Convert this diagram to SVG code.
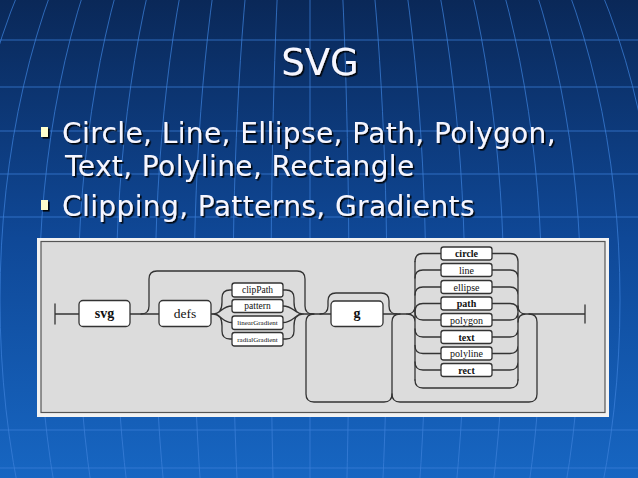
<svg xmlns="http://www.w3.org/2000/svg" width="638" height="478" viewBox="0 0 638 478">
<defs>
<linearGradient id="bg" x1="0" y1="0" x2="0" y2="1">
<stop offset="0" stop-color="#0a2858"/>
<stop offset="0.5" stop-color="#0f4897"/>
<stop offset="1" stop-color="#1766c2"/>
</linearGradient>
<filter id="sh" x="-10%" y="-20%" width="120%" height="150%">
<feDropShadow dx="1.6" dy="1.6" stdDeviation="0.4" flood-color="#000" flood-opacity="0.9"/>
</filter>
<style>
.grid{fill:none;stroke:#3b7fd8;stroke-width:1;opacity:0.75}
.slide{font-family:"DejaVu Sans",Verdana,sans-serif;fill:#f6f6ff}
.bul{fill:#ffffcc}
.box{fill:#ffffff;stroke:#333;stroke-width:1.3}
.rail{fill:none;stroke:#333;stroke-width:1.3;stroke-linecap:round}
.lbl{font-family:"Liberation Serif","Times New Roman",serif;fill:#111;text-anchor:middle}
.b{font-weight:bold}
</style>
</defs>
<rect width="638" height="478" fill="url(#bg)"/>
<g id="grid">
<path class="grid" d="M0,40H638M0,87H638M0,131H638M0,174H638M0,217H638M0,430H638M0,468H638"/>
<path class="grid" d="M310,0V478"/>
<ellipse class="grid" cx="310" cy="300" rx="39" ry="560"/>
<ellipse class="grid" cx="310" cy="300" rx="77" ry="560"/>
<ellipse class="grid" cx="310" cy="300" rx="116" ry="560"/>
<ellipse class="grid" cx="310" cy="300" rx="155" ry="560"/>
<ellipse class="grid" cx="310" cy="300" rx="194" ry="560"/>
<ellipse class="grid" cx="310" cy="300" rx="232" ry="560"/>
<ellipse class="grid" cx="310" cy="300" rx="271" ry="560"/>
<ellipse class="grid" cx="310" cy="300" rx="310" ry="560"/>
<ellipse class="grid" cx="310" cy="300" rx="349" ry="560"/>
<ellipse class="grid" cx="310" cy="300" rx="390" ry="560"/>
<ellipse class="grid" cx="310" cy="300" rx="435" ry="560"/>
</g>
<g id="title" filter="url(#sh)">
<text class="slide" x="320" y="75" font-size="37" text-anchor="middle" fill="#e4eefa">SVG</text>
</g>
<g id="bullets" filter="url(#sh)">
<rect class="bul" x="41" y="127" width="7" height="10"/>
<text class="slide" x="62" y="143" font-size="28" letter-spacing="0.4">Circle, Line, Ellipse, Path, Polygon,</text>
<text class="slide" x="65" y="176" font-size="28" letter-spacing="0.4">Text, Polyline, Rectangle</text>
<rect class="bul" x="41" y="200" width="7" height="10"/>
<text class="slide" x="62" y="216" font-size="28" letter-spacing="0.4">Clipping, Patterns, Gradients</text>
</g>
<g id="panel">
<rect x="37" y="238" width="572" height="179" fill="#f2f2f2"/>
<rect x="41" y="241.5" width="564" height="171" fill="#dcdcdc" stroke="#555" stroke-width="1.2"/>
</g>
<g id="connectors">
<path class="rail" d="M55,304V324M55,314H79M130,314H159"/>
<path class="rail" d="M141,314q8,0 8,-8V279q0,-8 8,-8H297q8,0 8,8V306q0,8 8,8"/>
<path class="rail" d="M211,314H213"/>
<path class="rail" d="M213,314C221,314 222,306 232,306M213,314C221,314 222,322.5 232,322.5M213,314C219,314 222,310 222,302V298q0,-8 8,-8H232M213,314C219,314 222,318 222,326V331q0,8 8,8H232"/>
<path class="rail" d="M303,314C295,314 293,306 283,306M303,314C295,314 293,322.5 283,322.5M303,314C297,314 294,310 294,302V298q0,-8 -8,-8H283M303,314C297,314 294,318 294,326V331q0,8 -8,8H283"/>
<path class="rail" d="M303,314H331M383,314H407"/>
<path class="rail" d="M320,314q8,0 8,-8V301q0,-8 8,-8H381q8,0 8,8V306q0,8 8,8"/>
<path class="rail" d="M314,314q-8,0 -8,8V394q0,8 8,8H384q8,0 8,-8"/>
<path class="rail" d="M529,314q8,0 8,8V394q0,8 -8,8H400q-8,0 -8,-8V322q0,-8 8,-8"/>
<path class="rail" d="M407,314q8,0 8,-8M407,314q8,0 8,8M415,261.5V380"/>
<path class="rail" d="M415,261.5q0,-8 8,-8H441M415,278q0,-8 8,-8H441M415,295q0,-8 8,-8H441M415,311.5q0,-8 8,-8H441M415,312q0,8 8,8H441M415,329q0,8 8,8H441M415,345.5q0,8 8,8H441M415,362q0,8 8,8H441"/>
<path class="rail" d="M415,380q0,8 8,8H510q8,0 8,-8"/>
<path class="rail" d="M518,261.5V380M492,253.5H510q8,0 8,8M492,270H510q8,0 8,8M492,287H510q8,0 8,8M492,303.5H510q8,0 8,8M492,320H510q8,0 8,-8M492,337H510q8,0 8,-8M492,353.5H510q8,0 8,-8M492,370H510q8,0 8,-8"/>
<path class="rail" d="M518,306q0,8 8,8M518,322q0,-8 8,-8M526,314H585M585,305V323"/>
</g>
<g id="n-svg"><rect class="box" x="79" y="300.5" width="51" height="26" rx="4"/><text class="lbl b" x="104.5" y="318" font-size="14">svg</text></g>
<g id="n-defs"><rect class="box" x="159" y="300.5" width="52" height="26" rx="4"/><text class="lbl" x="185" y="318" font-size="13.5">defs</text></g>
<g id="n-clipPath"><rect class="box" x="232" y="283" width="51" height="14" rx="2.5"/><text class="lbl" x="257.5" y="293.3" font-size="9.5">clipPath</text></g>
<g id="n-pattern"><rect class="box" x="232" y="299.5" width="51" height="13" rx="2.5"/><text class="lbl" x="257.5" y="309.3" font-size="9.5">pattern</text></g>
<g id="n-linearGradient"><rect class="box" x="232" y="316" width="51" height="13.5" rx="2.5"/><text class="lbl" x="257.5" y="325" font-size="7">linearGradient</text></g>
<g id="n-radialGradient"><rect class="box" x="232" y="332.5" width="51" height="13.5" rx="2.5"/><text class="lbl" x="257.5" y="341.8" font-size="7">radialGradient</text></g>
<g id="n-g"><rect class="box" x="331" y="301" width="52" height="25.5" rx="4"/><text class="lbl b" x="357" y="318" font-size="14">g</text></g>
<g id="n-circle"><rect class="box" x="441" y="247" width="51" height="13" rx="2.5"/><text class="lbl b" x="466.5" y="257" font-size="10">circle</text></g>
<g id="n-line"><rect class="box" x="441" y="263.5" width="51" height="13" rx="2.5"/><text class="lbl" x="466.5" y="273.5" font-size="10">line</text></g>
<g id="n-ellipse"><rect class="box" x="441" y="280.5" width="51" height="13" rx="2.5"/><text class="lbl" x="466.5" y="290.5" font-size="10">ellipse</text></g>
<g id="n-path"><rect class="box" x="441" y="297" width="51" height="13" rx="2.5"/><text class="lbl b" x="466.5" y="307" font-size="10">path</text></g>
<g id="n-polygon"><rect class="box" x="441" y="313.5" width="51" height="13" rx="2.5"/><text class="lbl" x="466.5" y="323.5" font-size="10">polygon</text></g>
<g id="n-text"><rect class="box" x="441" y="330.5" width="51" height="13" rx="2.5"/><text class="lbl b" x="466.5" y="340.5" font-size="10">text</text></g>
<g id="n-polyline"><rect class="box" x="441" y="347" width="51" height="13" rx="2.5"/><text class="lbl" x="466.5" y="357" font-size="10">polyline</text></g>
<g id="n-rect"><rect class="box" x="441" y="363.5" width="51" height="13" rx="2.5"/><text class="lbl b" x="466.5" y="373.5" font-size="10">rect</text></g>
</svg>
